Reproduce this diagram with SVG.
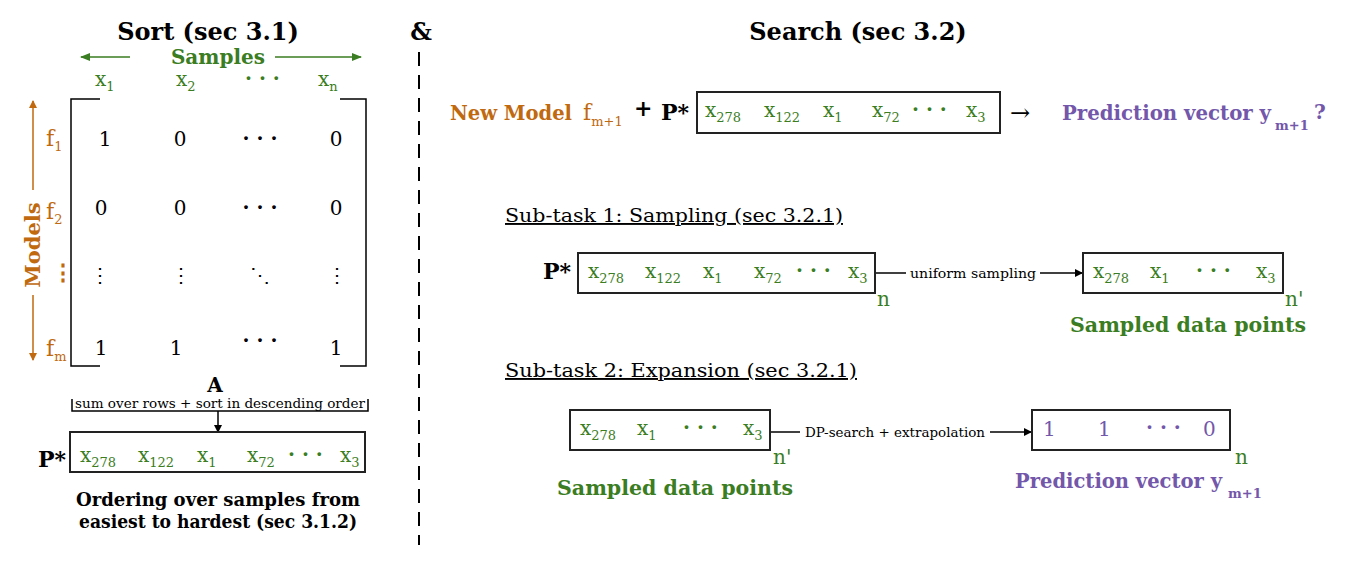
<svg xmlns="http://www.w3.org/2000/svg" width="1353" height="568" viewBox="0 0 1353 568">
<style>
text{font-family:"DejaVu Serif","Liberation Serif",serif;}
.t{font-size:24px;font-weight:bold;fill:#000}
.g{fill:#3a7d22}.o{fill:#c0690f}.p{fill:#7357aa}
.x{font-size:20px;fill:#3a7d22}
.s{font-size:13px}
.m{font-size:20px;fill:#000}
.b{font-weight:bold}
.ln{stroke:#000;stroke-width:1.5;fill:none}
.box{stroke:#222;stroke-width:2;fill:#fff}
</style>
<defs>
<marker id="ak" markerWidth="8" markerHeight="8" refX="7" refY="4" orient="auto" markerUnits="userSpaceOnUse"><path d="M0,0 L8,4 L0,8z" fill="#000"/></marker>
<marker id="ag" markerWidth="10" markerHeight="8" refX="9" refY="4" orient="auto" markerUnits="userSpaceOnUse"><path d="M0,0 L10,4 L0,8z" fill="#3a7d22"/></marker>
<marker id="ao" markerWidth="8" markerHeight="10" refX="7" refY="4" orient="auto" markerUnits="userSpaceOnUse"><path d="M0,0 L8,4 L0,8z" fill="#c0690f"/></marker>
</defs>
<rect width="1353" height="568" fill="#fff"/>

<g id="titles">
<text class="t" x="208" y="40" text-anchor="middle">Sort (sec 3.1)</text>
<text class="t" x="421" y="40" text-anchor="middle">&amp;</text>
<text class="t" x="858" y="40" text-anchor="middle">Search (sec 3.2)</text>
</g>

<g id="connectors">
<line x1="419" y1="52" x2="419" y2="545" stroke="#000" stroke-width="2" stroke-dasharray="14,9"/>
<line x1="130" y1="57" x2="81" y2="57" stroke="#3a7d22" stroke-width="1.5" marker-end="url(#ag)"/>
<line x1="275" y1="57" x2="361" y2="57" stroke="#3a7d22" stroke-width="1.5" marker-end="url(#ag)"/>
<line x1="33" y1="190" x2="33" y2="101" stroke="#c0690f" stroke-width="1.5" marker-end="url(#ao)"/>
<line x1="33" y1="295" x2="33" y2="360" stroke="#c0690f" stroke-width="1.5" marker-end="url(#ao)"/>
<line x1="218" y1="411" x2="218" y2="432" class="ln" marker-end="url(#ak)"/>
<line x1="875" y1="273" x2="906" y2="273" class="ln"/>
<line x1="1040" y1="273" x2="1082" y2="273" class="ln" marker-end="url(#ak)"/>
<line x1="770" y1="432" x2="800" y2="432" class="ln"/>
<line x1="990" y1="432" x2="1031" y2="432" class="ln" marker-end="url(#ak)"/>
</g>

<g id="matrix">
<text class="g b" x="218" y="64" font-size="20" text-anchor="middle">Samples</text>
<text class="x" x="95" y="86">x<tspan class="s" dy="5">1</tspan></text>
<text class="x" x="176" y="86">x<tspan class="s" dy="5">2</tspan></text>
<text class="x" x="245" y="85" font-weight="bold">· · ·</text>
<text class="x" x="318" y="86">x<tspan class="s" dy="5">n</tspan></text>
<path class="ln" d="M100,99 H71 V366 H100 M340,99 H366 V366 H340" stroke-width="2"/>
<text class="o" x="33" y="245" font-size="21" font-weight="bold" text-anchor="middle" transform="rotate(-90 33 245)" dy="7">Models</text>
<g class="o" font-size="22">
<text x="46" y="146">f<tspan class="s" dy="5">1</tspan></text>
<text x="46" y="219">f<tspan class="s" dy="5">2</tspan></text>
<text x="52" y="280" font-weight="bold">⋮</text>
<text x="46" y="356">f<tspan class="s" dy="5">m</tspan></text>
</g>
<g class="m" text-anchor="middle">
<text x="105" y="146">1</text><text x="180" y="146">0</text><text x="260" y="145" font-weight="bold">· · ·</text><text x="336" y="146">0</text>
<text x="101" y="215">0</text><text x="180" y="215">0</text><text x="260" y="214" font-weight="bold">· · ·</text><text x="336" y="215">0</text>
<text x="100" y="282">⋮</text><text x="181" y="282">⋮</text><text x="260" y="282">⋱</text><text x="337" y="282">⋮</text>
<text x="101" y="355">1</text><text x="176" y="355">1</text><text x="260" y="347" font-weight="bold">· · ·</text><text x="336" y="355">1</text>
</g>
<text x="215" y="392" font-size="20" font-weight="bold" text-anchor="middle">A</text>
<path class="ln" d="M72,399 V411 H368 V399" stroke-width="1.2"/>
<text x="220" y="408" font-size="12" text-anchor="middle" textLength="290" lengthAdjust="spacingAndGlyphs">sum over rows + sort in descending order</text>
</g>

<g id="pstar-left">
<text x="38" y="467" font-size="22" font-weight="bold">P*</text>
<rect class="box" x="70" y="432" width="295" height="40"/>
<g class="x">
<text x="80" y="462">x<tspan class="s" dy="5">278</tspan></text>
<text x="138" y="462">x<tspan class="s" dy="5">122</tspan></text>
<text x="197" y="462">x<tspan class="s" dy="5">1</tspan></text>
<text x="247" y="462">x<tspan class="s" dy="5">72</tspan></text>
<text x="288" y="461" font-weight="bold">· · ·</text>
<text x="340" y="462">x<tspan class="s" dy="5">3</tspan></text>
</g>
<text x="218" y="506" font-size="18" font-weight="bold" text-anchor="middle" textLength="284" lengthAdjust="spacingAndGlyphs">Ordering over samples from</text>
<text x="218" y="528" font-size="18" font-weight="bold" text-anchor="middle" textLength="278" lengthAdjust="spacingAndGlyphs">easiest to hardest (sec 3.1.2)</text>
</g>

<g id="search-top">
<text class="o b" x="450" y="120" font-size="21" textLength="122" lengthAdjust="spacingAndGlyphs">New Model</text>
<text class="o" x="583" y="120" font-size="22">f<tspan class="s" dy="6">m+1</tspan></text>
<text x="634" y="116" font-size="22" font-weight="bold">+</text>
<text x="661" y="120" font-size="22" font-weight="bold">P*</text>
<rect class="box" x="697" y="92" width="303" height="41"/>
<g class="x">
<text x="705" y="117">x<tspan class="s" dy="5">278</tspan></text>
<text x="764" y="117">x<tspan class="s" dy="5">122</tspan></text>
<text x="823" y="117">x<tspan class="s" dy="5">1</tspan></text>
<text x="872" y="117">x<tspan class="s" dy="5">72</tspan></text>
<text x="912" y="116" font-weight="bold">· · ·</text>
<text x="966" y="117">x<tspan class="s" dy="5">3</tspan></text>
</g>
<text x="1010" y="121" font-size="24">→</text>
<text class="p b" x="1062" y="120" font-size="21" textLength="209" lengthAdjust="spacingAndGlyphs">Prediction vector y</text><text class="p b" x="1275" y="130" font-size="13">m+1</text><text class="p b" x="1314" y="119" font-size="20">?</text>
</g>

<g id="subtask1">
<text x="505" y="222" font-size="19" textLength="338" lengthAdjust="spacingAndGlyphs" text-decoration="underline">Sub-task 1: Sampling (sec 3.2.1)</text>
<text x="543" y="279" font-size="22" font-weight="bold">P*</text>
<rect class="box" x="578" y="253" width="297" height="40"/>
<g class="x">
<text x="588" y="278">x<tspan class="s" dy="5">278</tspan></text>
<text x="645" y="278">x<tspan class="s" dy="5">122</tspan></text>
<text x="703" y="278">x<tspan class="s" dy="5">1</tspan></text>
<text x="754" y="278">x<tspan class="s" dy="5">72</tspan></text>
<text x="796" y="277" font-weight="bold">· · ·</text>
<text x="848" y="278">x<tspan class="s" dy="5">3</tspan></text>
</g>
<text class="x" x="877" y="306">n</text>
<text x="910" y="278" font-size="13" textLength="126" lengthAdjust="spacingAndGlyphs">uniform sampling</text>
<rect class="box" x="1083" y="253" width="200" height="40"/>
<g class="x">
<text x="1093" y="278">x<tspan class="s" dy="5">278</tspan></text>
<text x="1150" y="278">x<tspan class="s" dy="5">1</tspan></text>
<text x="1196" y="277" font-weight="bold">· · ·</text>
<text x="1256" y="278">x<tspan class="s" dy="5">3</tspan></text>
</g>
<text class="x" x="1285" y="306">n'</text>
<text class="g b" x="1070" y="332" font-size="21" textLength="236" lengthAdjust="spacingAndGlyphs">Sampled data points</text>
</g>

<g id="subtask2">
<text x="505" y="377" font-size="19" textLength="352" lengthAdjust="spacingAndGlyphs" text-decoration="underline">Sub-task 2: Expansion (sec 3.2.1)</text>
<rect class="box" x="570" y="410" width="200" height="40"/>
<g class="x">
<text x="580" y="435">x<tspan class="s" dy="5">278</tspan></text>
<text x="637" y="435">x<tspan class="s" dy="5">1</tspan></text>
<text x="683" y="434" font-weight="bold">· · ·</text>
<text x="743" y="435">x<tspan class="s" dy="5">3</tspan></text>
</g>
<text class="x" x="773" y="464">n'</text>
<text x="805" y="437" font-size="13" textLength="180" lengthAdjust="spacingAndGlyphs">DP-search + extrapolation</text>
<rect class="box" x="1032" y="410" width="198" height="40"/>
<g class="p" font-size="20">
<text x="1043" y="436">1</text><text x="1098" y="436">1</text><text x="1146" y="434" font-weight="bold">· · ·</text><text x="1203" y="436">0</text>
</g>
<text class="x" x="1235" y="464">n</text>
<text class="g b" x="557" y="495" font-size="21" textLength="236" lengthAdjust="spacingAndGlyphs">Sampled data points</text>
<text class="p b" x="1015" y="488" font-size="21" textLength="207" lengthAdjust="spacingAndGlyphs">Prediction vector y</text><text class="p b" x="1228" y="498" font-size="13">m+1</text>
</g>
</svg>
